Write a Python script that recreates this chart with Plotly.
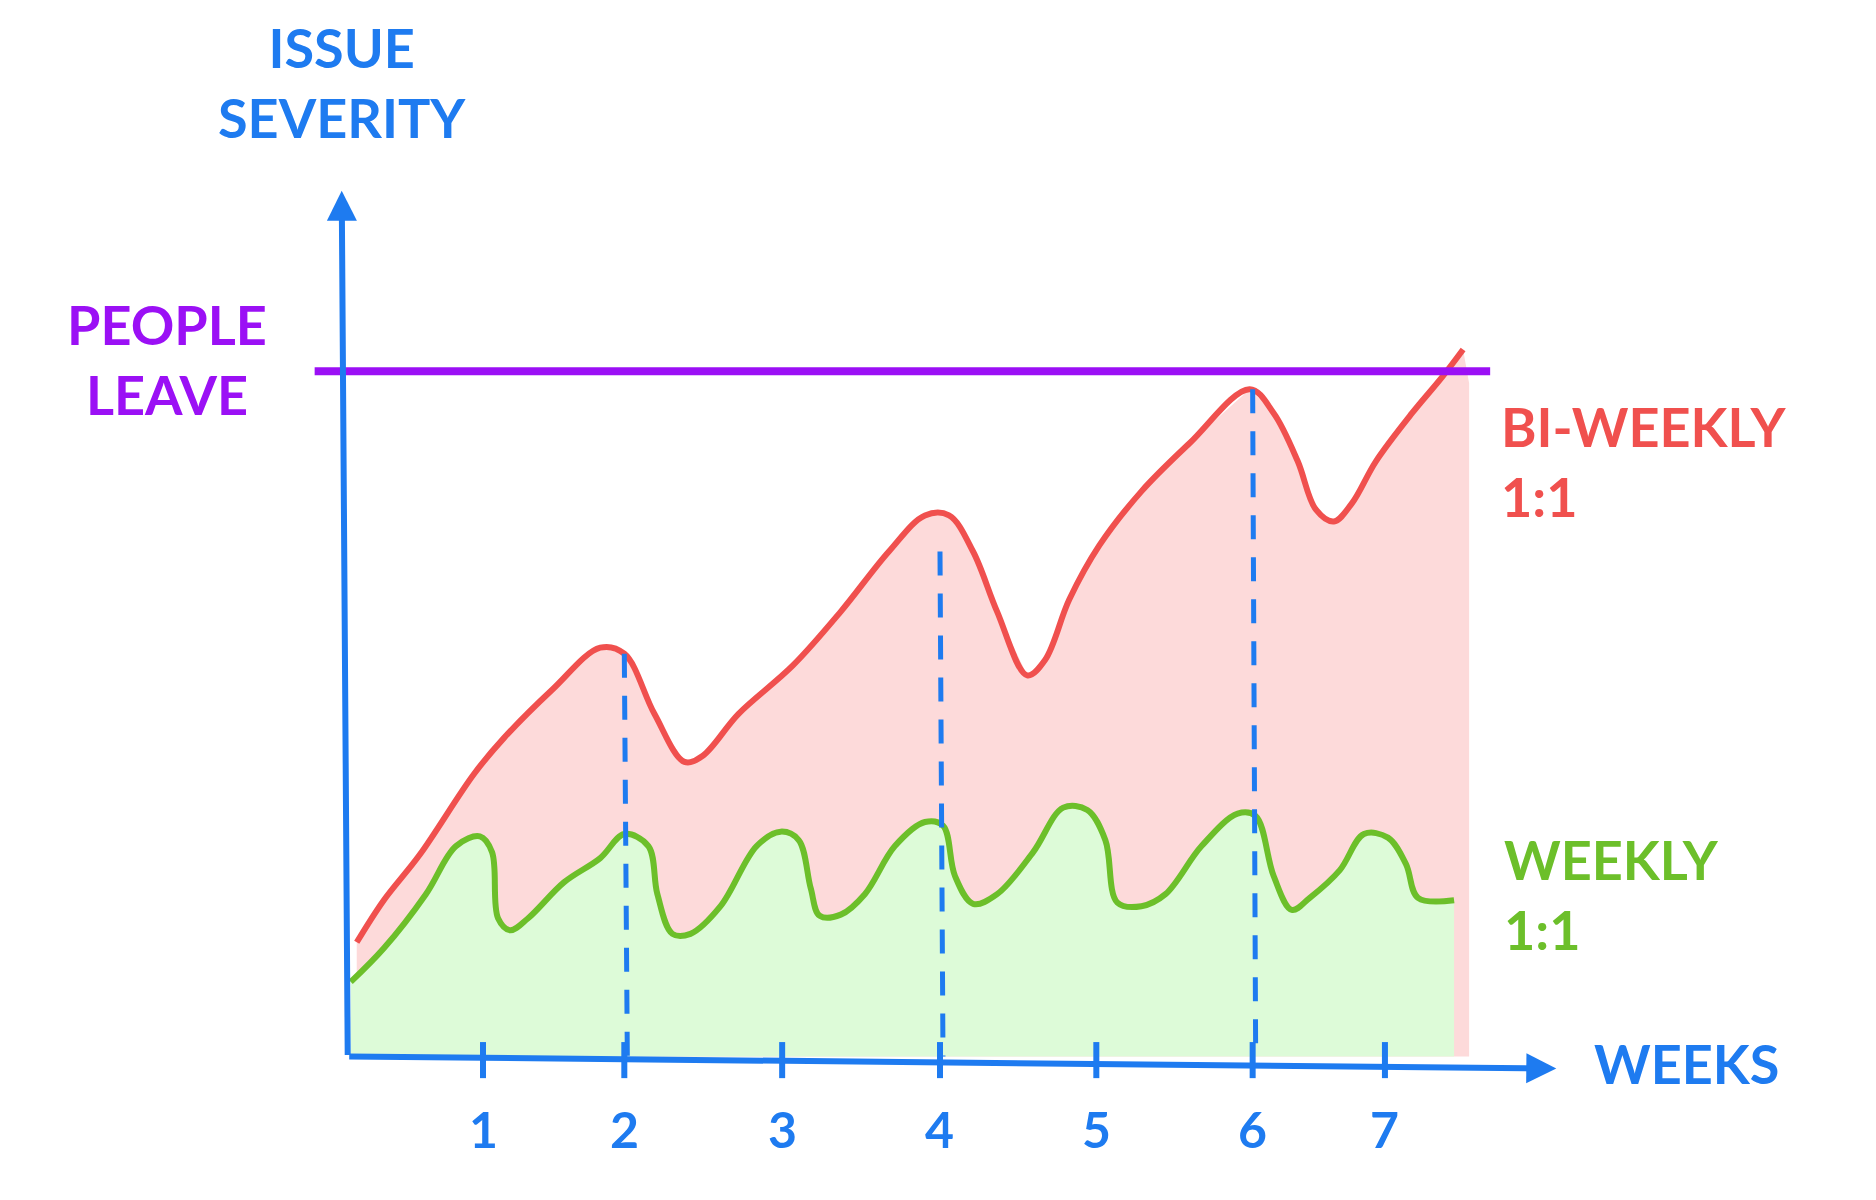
import plotly.graph_objects as go

# data (weeks, severity)
red_x = [0.06,0.24,0.48,0.84,1.04,1.36,1.68,1.84,2.04,2.24,2.36,2.6,2.96,3.28,3.6,3.84,4.0,4.16,4.32,4.52,4.64,4.8,5.0,5.28,5.6,6.0,6.16,6.32,6.44,6.56,6.68,6.84,7.08,7.28,7.42]
red_y = [9.5,13,16.8,23.5,26.5,30.5,34,33.5,28.5,24.5,25,28.5,32.5,37,42,45,45,42,37,31.7,33,38,42.5,47,51,55.5,53.5,49.5,45.5,44.5,46,49.5,53.5,56.5,58.8]
green_x = [0.02,0.24,0.52,0.72,0.88,0.96,1.0,1.08,1.2,1.44,1.68,1.84,2.0,2.06,2.16,2.28,2.48,2.72,2.88,3.0,3.08,3.14,3.28,3.44,3.64,3.84,3.96,4.04,4.16,4.32,4.56,4.76,4.92,5.04,5.12,5.28,5.44,5.68,5.92,6.04,6.16,6.28,6.4,6.6,6.76,6.92,7.04,7.12,7.36]
green_y = [6.2,9,13.5,17.5,18.3,17,11.5,10.5,11.5,14.5,16.5,18.5,17.5,13.5,10.2,10.2,12.5,17.5,18.7,18,14,11.7,11.8,13.5,17.5,19.5,19.2,15,12.7,13.5,17,20.7,20.5,18,12.8,12.5,13.5,17.5,20.2,20,15,12.2,13.2,15.5,18.5,18.2,16,13.2,13]
leave_level = 57
tick_pos = [0.9,1.84,2.89,3.94,4.98,6.02,6.9]
tick_labels = ["1","2","3","4","5","6","7"]
dash_weeks = [1.84,3.94,6.02]
dash_tops = [33.5,42,55.5]

BLUE="#1E7BF0"; PURPLE="#9B10F5"; RED="#F0504E"; GREEN="#6CBF2A"
FONT="Lato"
fig = go.Figure()
rx = red_x + [7.46, 7.46, 0.06]; ry = red_y + [56, 0, 0]
fig.add_trace(go.Scatter(x=rx, y=ry, fill="toself", fillcolor="#FDDADA", line=dict(width=0), mode="lines", hoverinfo="skip"))
gx = green_x + [7.36, 0.02]; gy = green_y + [0, 0]
fig.add_trace(go.Scatter(x=gx, y=gy, fill="toself", fillcolor="#DDFBD8", line=dict(width=0), mode="lines", hoverinfo="skip"))
fig.add_trace(go.Scatter(x=red_x, y=red_y, mode="lines", line=dict(color=RED, width=6, shape="spline")))
fig.add_trace(go.Scatter(x=green_x, y=green_y, mode="lines", line=dict(color=GREEN, width=6, shape="spline")))
fig.add_trace(go.Scatter(x=[-0.22,7.6], y=[leave_level,leave_level], mode="lines", line=dict(color=PURPLE, width=8)))
for w,t in zip(dash_weeks, dash_tops):
    fig.add_trace(go.Scatter(x=[w,w+0.02], y=[t,0], mode="lines", line=dict(color=BLUE, width=5, dash="24px,18px")))
for p,l in zip(tick_pos, tick_labels):
    fig.add_trace(go.Scatter(x=[p,p], y=[1.2,-1.8], mode="lines", line=dict(color=BLUE, width=6)))
    fig.add_annotation(x=p, y=-6, text=l, showarrow=False, font=dict(family=FONT, size=50, color=BLUE, weight="bold"))
# axes with arrows
fig.add_annotation(x=-0.04, y=72, ax=0, ay=0, axref="x", ayref="y", showarrow=True, arrowhead=2, arrowsize=1, arrowwidth=6, arrowcolor=BLUE, text="")
fig.add_annotation(x=8.04, y=-1, ax=0, ay=0, axref="x", ayref="y", showarrow=True, arrowhead=2, arrowsize=1, arrowwidth=6, arrowcolor=BLUE, text="")
def lab(x,y,t,c,anchor="center"):
    fig.add_annotation(x=x,y=y,text=t,showarrow=False,xanchor=anchor,align="left" if anchor=="left" else "center",
                       font=dict(family=FONT,size=54,color=c,weight="bold"))
lab(-0.04,81,"ISSUE<br>SEVERITY",BLUE)
lab(-1.2,58,"PEOPLE<br>LEAVE",PURPLE)
lab(7.66,49.5,"BI-WEEKLY<br>1:1",RED,"left")
lab(7.68,13.5,"WEEKLY<br>1:1",GREEN,"left")
lab(8.28,-0.6,"WEEKS",BLUE,"left")
fig.update_layout(width=1876,height=1200,margin=dict(l=0,r=0,t=0,b=0),showlegend=False,
                  plot_bgcolor="white",paper_bgcolor="white",
                  xaxis=dict(range=[-2.26,10.22],visible=False),
                  yaxis=dict(range=[-12.6,87.2],visible=False))
fig.write_html("out.html")
